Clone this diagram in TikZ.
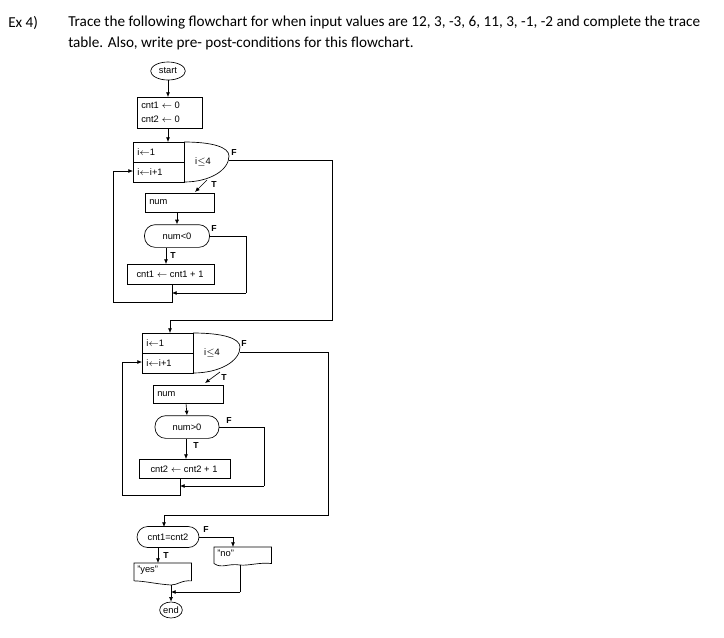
\documentclass[tikz,border=0pt]{standalone}
\usepackage{fontspec}
\setmainfont{Liberation Sans}
\newfontfamily\titlefont{Carlito}
\usetikzlibrary{arrows.meta,shapes.geometric}
\begin{document}
\begin{tikzpicture}[x=0.75pt,y=-0.75pt,
  every node/.style={font=\fontsize{7}{8}\selectfont,inner sep=0pt},
  box/.style={draw,line width=0.5pt,anchor=north west},
  doc/.style={anchor=north west},
  ln/.style={line width=0.5pt},
  ar/.style={line width=0.5pt,-{Latex[length=3.5pt,width=3pt]}},
  lab/.style={font=\fontsize{6.5}{7}\selectfont\bfseries},
  ttl/.style={font=\titlefont\fontsize{11.4}{13}\selectfont,anchor=west}]
\useasboundingbox (0,0) rectangle (724,637);
% title
\node[ttl] (ex) at (8,23) {Ex 4)};
\node[ttl] (t1) at (68,23) {Trace the following flowchart for when input values are 12, 3, -3, 6, 11, 3, -1, -2 and complete the trace};
\node[ttl] (t2) at (68,43) {table. Also, write pre- post-conditions for this flowchart.};
% start
\node[draw,ln,ellipse,minimum width=26pt,minimum height=13.5pt] (start) at (168,71) {start};
\node[box,minimum width=48.75pt,minimum height=23.25pt] (init) at (137,97) {};
\node[anchor=west] (i1) at (141,105) {cnt1 $\leftarrow$ 0};
\node[anchor=west] (i2) at (141,119) {cnt2 $\leftarrow$ 0};
\draw[ar] (start.south) -- (168,97);
% loop 1
\coordinate (L1) at (133,142);
\draw[ln] (133,142) rectangle (184,182) (133,162) -- (184,162);
\draw[ln] (184,142) .. controls (212,142) and (229,147) .. (229,156) .. controls (229,170) and (210,182) .. (184,182);
\node[anchor=west] (a1) at (137,152) {i$\leftarrow$1};
\node[anchor=west] (a2) at (137,172) {i$\leftarrow$i+1};
\node (a3) at (203,162) {i$\leq$4};
\draw[ar] (168,128) -- (L1 -| 168,0);
\node[lab] (f1) at (234,153) {F};
\node[lab] (tl1) at (214,185) {T};
\node[box,minimum width=51.75pt,minimum height=14.25pt] (num1) at (145,193) {};
\node[anchor=west] (n1t) at (149,202) {num};
\draw[ar] (207,180) -- (195,192);
\node[draw,ln,rounded corners=8pt,minimum width=48.75pt,minimum height=17pt] (c1) at (177,236) {num<0};
\draw[ar] (177,212) -- (c1.north);
\node[lab] (f2) at (214,229) {F};
\node[lab] (tl2) at (173,256) {T};
\node[box,minimum width=65.25pt,minimum height=15pt] (inc1) at (127,264) {};
\node (inc1t) at (170,274) {cnt1 $\leftarrow$ cnt1 + 1};
\draw[ar] (166,248) -- (166,264);
\coordinate (j1) at (172,293);
\draw[ln] (c1.east) -- (246,236) -- (246,293);
\draw[ar] (246,293) -- (j1);
\draw[ln] (172,284) -- (172,302) -- (113,302) -- (113,171);
\draw[ar] (113,171) -- (133,171);
\draw[ln] (229,160) -- (332,160) -- (332,320) -- (170,320);
% loop 2
\draw[ar] (170,320) -- (170,333);
\draw[ln] (142,333) rectangle (193,373) (142,353) -- (193,353);
\draw[ln] (193,333) .. controls (222,333) and (240,338) .. (240,347) .. controls (240,361) and (220,373) .. (193,373);
\node[anchor=west] (b1) at (146,343) {i$\leftarrow$1};
\node[anchor=west] (b2) at (146,363) {i$\leftarrow$i+1};
\node (b3) at (212,353) {i$\leq$4};
\node[lab] (f3) at (244,344) {F};
\node[lab] (tl3) at (224,378) {T};
\draw[ar] (220,372) -- (205,383);
\node[box,minimum width=52.5pt,minimum height=13.5pt] (num2) at (153,385) {};
\node[anchor=west] (n2t) at (157,394) {num};
\node[draw,ln,rounded corners=8pt,minimum width=48pt,minimum height=17pt] (c2) at (187,427) {num>0};
\draw[ar] (186,403) -- (c2.north);
\node[lab] (f4) at (229,421) {F};
\node[lab] (tl4) at (196,446) {T};
\node[box,minimum width=68.25pt,minimum height=14.25pt] (inc2) at (139,459) {};
\node (inc2t) at (184,469) {cnt2 $\leftarrow$ cnt2 + 1};
\draw[ar] (186,439) -- (186,459);
\draw[ln] (c2.east) -- (264,427) -- (264,486);
\draw[ar] (264,486) -- (180,486);
\draw[ln] (180,478) -- (180,495) -- (122,495) -- (122,362);
\draw[ar] (122,362) -- (142,362);
\draw[ln] (240,352) -- (328,352) -- (328,515) -- (164,515);
% final
\node[draw,ln,rounded corners=8pt,minimum width=46.5pt,minimum height=15.75pt] (c3) at (168,537) {cnt1=cnt2};
\draw[ar] (164,515) -- (164,527);
\node[lab] (f5) at (206,530) {F};
\node[lab] (tl5) at (166,556) {T};
\draw[ln] (c3.east) -- (233,537);
\draw[ar] (233,537) -- (233,547);
\node[doc,minimum width=42.75pt,minimum height=12pt] (no) at (214,547) {};
\draw[ln] (no.south west) -- (no.north west) -- (no.north east) -- (no.south east)
  .. controls (260,562) and (248,566) .. (240,565) .. controls (228,563) and (222,569) .. (no.south west);
\node[anchor=north west] (not) at (217,550) {"no"};
\draw[ar] (158,548) -- (158,563);
\node[doc,minimum width=42.75pt,minimum height=13pt] (yes) at (134,563) {};
\draw[ln] (yes.south west) -- (yes.north west) -- (yes.north east) -- (yes.south east)
  .. controls (181,580) and (178,585) .. (171,585) .. controls (156,584) and (145,581) .. (yes.south west);
\node[anchor=north west] (yest) at (137,566) {"yes"};
\node[draw,ln,ellipse,minimum width=17pt,minimum height=12pt] (end) at (171,610) {end};
\draw[ar] (171,585) -- (end.north);
\draw[ln] (240,565) -- (240,592);
\draw[ar] (240,592) -- (171,592);
\end{tikzpicture}
\end{document}
